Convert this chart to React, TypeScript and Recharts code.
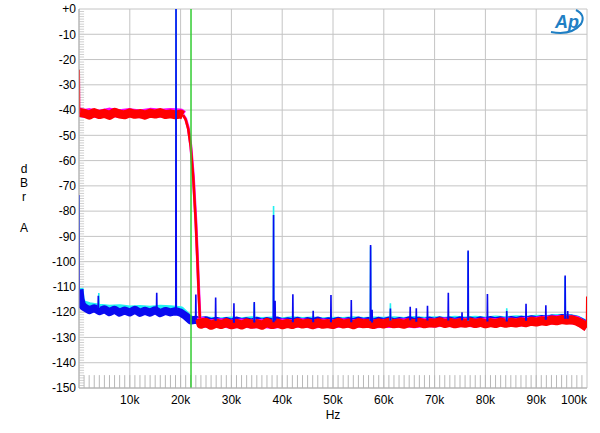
import React from 'react';
import { LineChart, Line, XAxis, YAxis, CartesianGrid, ReferenceLine } from 'recharts';

// sample frequencies of the floor traces, in kHz
const GRID_K = Array.from({ length: 100 }, (_, i) => i + 1);
const HALF_GRID_K = Array.from({ length: 50 }, (_, i) => (i + 1) * 2);

// left channel noise (red), 1..100 kHz
const RED_DB = [
  -41.2, -42.0, -41.0, -41.8, -41.3, -42.1, -40.9, -41.6, -41.9, -41.1,
  -41.7, -41.4, -42.0, -41.2, -41.6, -41.0, -41.8, -41.5, -41.9, -41.6,
  -43.8, -54.5, -85.0, -124.8, -124.0, -125.2, -124.3, -124.9, -124.1, -125.0,
  -124.4, -125.1, -124.2, -124.8, -124.5, -125.2, -124.0, -124.9, -124.3, -125.0,
  -124.4, -124.9, -124.1, -124.7, -124.3, -125.0, -124.2, -124.8, -124.5, -124.9,
  -124.0, -124.7, -124.3, -125.0, -124.1, -124.6, -124.4, -124.9, -124.2, -124.7,
  -124.0, -124.6, -124.3, -124.8, -124.1, -124.5, -124.0, -124.6, -124.2, -124.4,
  -123.8, -124.5, -124.0, -124.6, -124.1, -124.4, -123.9, -124.5, -124.0, -124.6,
  -124.1, -124.5, -123.9, -124.4, -124.0, -124.3, -123.8, -124.2, -123.6, -123.9,
  -123.4, -123.7, -123.1, -123.4, -122.9, -123.2, -123.0, -123.6, -124.6, -126.0,
];
const RED_EXTRA = [
  [0, -41.5], [0.1, -41.0], [20.5, -42.0], [21.5, -47.5], [22.5, -67.0],
  [23.3, -99.0], [23.6, -114.0], [23.8, -122.5],
];
const RED_SPIKES = [[0, -24.0], [100, -113.8]];

// right channel noise (magenta), 2..100 kHz
const MAG_DB = [
  -41.0, -41.6, -40.8, -41.4, -41.0, -41.5, -40.9, -41.3, -41.0, -41.2,
  -54.0, -124.3, -124.6, -124.2, -124.8, -124.3, -124.7, -124.4, -124.9, -124.3,
  -124.6, -124.2, -124.8, -124.3, -124.7, -124.2, -124.6, -124.3, -124.7, -124.4,
  -124.5, -124.2, -124.6, -124.1, -124.3, -123.9, -124.4, -124.0, -124.3, -123.9,
  -124.2, -123.8, -124.1, -123.7, -123.5, -123.2, -123.0, -122.8, -123.3, -125.8,
];
const MAG_EXTRA = [
  [0, -41.0], [0.1, -40.8], [1, -41.3], [20.5, -42.0], [21, -43.5], [21.5, -47.0],
  [22.5, -66.0], [23, -84.0], [23.3, -98.0], [23.6, -113.0], [23.8, -122.0],
];
const MAG_SPIKES = [[0, -24.5]];

// left channel 19.1kHz tone (blue), 1..100 kHz
const BLUE_DB = [
  -118.0, -119.2, -118.4, -119.6, -118.8, -120.0, -119.0, -120.2, -119.3, -120.1,
  -119.0, -120.3, -119.4, -120.2, -119.2, -120.4, -119.5, -120.1, -119.6, -120.2,
  -121.5, -123.3, -123.0, -123.6, -123.2, -124.0, -123.4, -124.1, -123.5, -124.2,
  -123.3, -124.0, -123.6, -124.1, -123.4, -124.2, -123.5, -124.0, -123.3, -124.1,
  -123.6, -124.0, -123.4, -124.2, -123.5, -124.0, -123.3, -124.1, -123.6, -124.0,
  -123.4, -124.1, -123.5, -124.0, -123.3, -123.9, -123.5, -124.1, -123.4, -123.9,
  -123.3, -124.0, -123.5, -123.9, -123.2, -123.8, -123.4, -123.9, -123.3, -123.8,
  -123.2, -123.7, -123.3, -123.8, -123.2, -123.7, -123.3, -123.8, -123.2, -123.7,
  -123.1, -123.6, -123.2, -123.7, -123.1, -123.5, -123.0, -123.4, -122.8, -123.2,
  -122.7, -123.0, -122.5, -122.8, -122.3, -122.6, -122.5, -123.0, -124.0, -125.5,
];
const BLUE_EXTRA = [[0.1, -111.0], [0.3, -115.0], [0.6, -117.2]];
const BLUE_SPIKES = [
  [0, -73.6], [3.8, -113.5], [15.3, -112.3], [19.1, 0], [23.0, -113.0],
  [26.9, -114.2], [30.5, -116.5], [34.5, -116.0], [38.3, -81.5], [38.6, -115.5],
  [42.1, -112.9], [46.1, -119.4], [49.6, -113.2], [53.6, -115.2], [57.4, -93.4],
  [57.7, -119.0], [61.3, -118.5], [65.2, -117.8], [66.4, -118.4], [68.6, -117.5],
  [72.7, -112.3], [75.4, -120.0], [76.6, -95.6], [80.4, -112.8], [84.2, -119.5],
  [88.0, -116.7], [91.9, -117.3], [95.7, -105.5], [96.2, -119.5],
];

// right channel 19.1kHz tone (cyan), 2..100 kHz
const CYAN_DB = [
  -117.6, -118.2, -118.6, -118.4, -118.9, -118.7, -119.0, -118.6, -118.8, -119.2,
  -123.0, -123.2, -123.4, -123.6, -123.3, -123.6, -123.2, -123.5, -123.3, -123.6,
  -123.2, -123.5, -123.3, -123.6, -123.4, -123.5, -123.2, -123.5, -123.3, -123.4,
  -123.2, -123.5, -123.1, -123.4, -123.2, -123.4, -123.0, -123.3, -123.0, -123.3,
  -122.9, -123.2, -122.8, -123.0, -122.6, -122.7, -122.3, -122.2, -122.8, -124.8,
];
const CYAN_EXTRA = [[0.1, -110.5], [0.3, -114.5], [0.6, -116.5], [1, -117.0]];
const CYAN_SPIKES = [
  [0, -74.0], [3.9, -112.4], [19.1, 0], [34.5, -116.5], [38.3, -78.0],
  [57.4, -94.0], [61.3, -116.5], [76.6, -96.0], [84.2, -118.4], [95.7, -106.0],
];

const NYQUIST_HZ = 22050;
// the anti-alias roll-off is drawn as a thin line between these two frequencies
const ROLLOFF_START_HZ = 20500;
const ROLLOFF_END_HZ = 23800;
const Y_TICKS = [0, -10, -20, -30, -40, -50, -60, -70, -80, -90, -100, -110, -120, -130, -140, -150];
const X_TICKS = [0, 10000, 20000, 30000, 40000, 50000, 60000, 70000, 80000, 90000, 100000];

const FONT = 'Liberation Sans, Arial, sans-serif';

const floorPoints = (grid: number[], values: number[], extra: number[][]) =>
  [
    ...grid.map((f, i) => ({ f: f * 1000, v: values[i] })),
    ...extra.map(([f, v]) => ({ f: f * 1000, v })),
  ].sort((a, b) => a.f - b.f);

// each spike rises from the nearest floor sample of its own trace
const spikePoints = (spikes: number[][], grid: number[], values: number[]) =>
  spikes.flatMap(([f, peak]) => {
    let idx = 0;
    grid.forEach((g, i) => {
      if (Math.abs(g - f) < Math.abs(grid[idx] - f)) idx = i;
    });
    const base = values[idx];
    return [
      { f: Math.max(0, f - 0.05) * 1000, v: base },
      { f: f * 1000, v: peak },
      { f: Math.min(100, f + 0.05) * 1000, v: base },
      { f: Math.min(100, f + 0.06) * 1000, v: null },
    ];
  });

const range = (pts: { f: number; v: number }[], lo: number, hi: number) => pts.filter((p) => p.f >= lo && p.f <= hi);

const redFloor = floorPoints(GRID_K, RED_DB, RED_EXTRA);
const magFloor = floorPoints(HALF_GRID_K, MAG_DB, MAG_EXTRA);
const blueFloor = floorPoints(GRID_K, BLUE_DB, BLUE_EXTRA);
const cyanFloor = floorPoints(HALF_GRID_K, CYAN_DB, CYAN_EXTRA);
const redSpikes = spikePoints(RED_SPIKES, GRID_K, RED_DB);
const magSpikes = spikePoints(MAG_SPIKES, HALF_GRID_K, MAG_DB);
const blueSpikes = spikePoints(BLUE_SPIKES, GRID_K, BLUE_DB);
const cyanSpikes = spikePoints(CYAN_SPIKES, HALF_GRID_K, CYAN_DB);

const minorY = Array.from({ length: 149 }, (_, i) => -(i + 1));
const minorX = Array.from({ length: 99 }, (_, i) => (i + 1) * 1000);

const XTick = (props: any) => {
  const { x, y, payload } = props;
  if (payload.value === 0) return null;
  const last = payload.value === 100000;
  return (
    <text x={x} y={y} dy="0.71em" textAnchor={last ? 'end' : 'middle'} fill="#000" fontSize={12} fontFamily={FONT}>
      {payload.value / 1000}k
    </text>
  );
};

const YTick = (props: any) => {
  const { x, y, payload } = props;
  return (
    <text x={x} y={y} dy="0.355em" textAnchor="end" fill="#000" fontSize={12} fontFamily={FONT}>
      {payload.value === 0 ? '+0' : payload.value}
    </text>
  );
};

const letter = (ch: string, top: number) => (
  <div style={{ position: 'absolute', left: 18, top, width: 12, height: 12, textAlign: 'center', fontSize: 12, fontFamily: FONT, lineHeight: '12px' }}>
    {ch}
  </div>
);

const band = (data: any[], color: string, width: number) => (
  <Line
    data={data}
    dataKey="v"
    stroke={color}
    strokeWidth={width}
    dot={false}
    isAnimationActive={false}
    strokeLinejoin="round"
    strokeLinecap="butt"
  />
);

export default function App() {
  return (
    <div style={{ position: 'absolute', left: 0, top: 0, width: 600, height: 433, background: '#fff' }}>
      <LineChart width={600} height={433} margin={{ top: 9, right: 13, bottom: 0, left: 0 }}>
        <CartesianGrid stroke="#c4c4c4" strokeWidth={1} />
        <XAxis
          dataKey="f"
          type="number"
          domain={[0, 100000]}
          ticks={X_TICKS}
          interval={0}
          allowDataOverflow
          height={45}
          tickSize={0}
          tickMargin={7}
          axisLine={{ stroke: '#b0b0b0' }}
          tick={<XTick />}
        />
        <YAxis
          type="number"
          domain={[-150, 0]}
          ticks={Y_TICKS}
          interval={0}
          allowDataOverflow
          width={79}
          tickSize={0}
          tickMargin={3}
          axisLine={{ stroke: '#b0b0b0' }}
          tick={<YTick />}
        />
        {minorY.map((d) => (
          <ReferenceLine key={'my' + d} segment={[{ x: 0, y: d }, { x: 1000, y: d }]} stroke="#cfcfcf" strokeWidth={1} />
        ))}
        {minorX.map((f) => (
          <ReferenceLine key={'mx' + f} segment={[{ x: f, y: -150 }, { x: f, y: -144.9 }]} stroke="#b8b8b8" strokeWidth={1} />
        ))}
        {band(cyanFloor, '#22f0f0', 8)}
        {band(blueFloor, '#0a0af0', 8)}
        {band(range(magFloor, 0, ROLLOFF_START_HZ), '#ff00ff', 9)}
        {band(range(magFloor, ROLLOFF_START_HZ, ROLLOFF_END_HZ), '#ff00ff', 3)}
        {band(range(magFloor, ROLLOFF_END_HZ, 100000), '#ff00ff', 9)}
        {band(range(redFloor, 0, ROLLOFF_START_HZ), '#ff0000', 9)}
        {band(range(redFloor, ROLLOFF_START_HZ, ROLLOFF_END_HZ), '#ff0000', 2.5)}
        {band(range(redFloor, ROLLOFF_END_HZ, 100000), '#ff0000', 9)}
        <Line data={magSpikes} dataKey="v" stroke="#ff00ff" strokeWidth={2} dot={false} isAnimationActive={false} />
        <Line data={redSpikes} dataKey="v" stroke="#ff0000" strokeWidth={2} dot={false} isAnimationActive={false} />
        <Line data={cyanSpikes} dataKey="v" stroke="#22f0f0" strokeWidth={1.6} dot={false} isAnimationActive={false} />
        <Line data={blueSpikes} dataKey="v" stroke="#0a0af0" strokeWidth={1.6} dot={false} isAnimationActive={false} />
        <ReferenceLine x={NYQUIST_HZ} stroke="#33cc33" strokeWidth={1.5} />
      </LineChart>

      {letter('d', 163)}
      {letter('B', 177)}
      {letter('r', 191)}
      {letter('A', 222)}
      <div style={{ position: 'absolute', left: 0, width: 666, top: 408, textAlign: 'center', fontSize: 12, fontFamily: FONT }}>Hz</div>

      <svg style={{ position: 'absolute', left: 545, top: 6 }} width={45} height={32}>
        <text x={10} y={22} fontSize={18} fontStyle="italic" fontWeight="bold" fill="#1f7fc4" fontFamily={FONT}>Ap</text>
        <path d="M 6 26 Q 26 30 36 18 Q 41 9 31 4" fill="none" stroke="#1f7fc4" strokeWidth={2} />
      </svg>
    </div>
  );
}
